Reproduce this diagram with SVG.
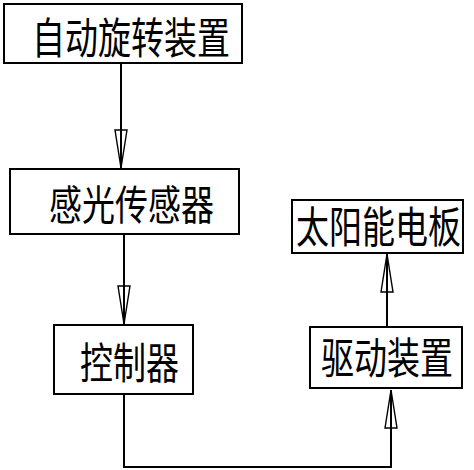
<svg xmlns="http://www.w3.org/2000/svg" width="474" height="470" viewBox="0 0 474 470">
<style>
.box{fill:#fff;stroke:#000;stroke-width:2}
.lbl{font-family:"Noto Sans CJK SC","Noto Sans CJK JP",sans-serif;font-size:33px;fill:#000}
.con{fill:none;stroke:#000;stroke-width:2;marker-end:url(#arr)}
</style>
<defs>
<marker id="arr" markerWidth="42" markerHeight="16" refX="40" refY="8" orient="auto" markerUnits="userSpaceOnUse">
<path d="M2,2 L40,8 L2,14 Z" fill="none" stroke="#000" stroke-width="1.4"/>
</marker>
</defs>
<g id="connectors">
<path class="con" d="M121,63 V168"/>
<path class="con" d="M124,234 V324"/>
<path class="con" d="M124,394 V467 H391 V390"/>
<path class="con" d="M387,327 V254"/>
</g>
<g id="n1"><rect class="box" x="4" y="4" width="238" height="59"/><text class="lbl" transform="translate(32,54) scale(1,1.3)">自动旋转装置</text></g>
<g id="n2"><rect class="box" x="10" y="169" width="229" height="65"/><text class="lbl" transform="translate(49,220) scale(1,1.25)">感光传感器</text></g>
<g id="n3"><rect class="box" x="54" y="325" width="139" height="69"/><text class="lbl" transform="translate(80,379) scale(1,1.3)">控制器</text></g>
<g id="n4"><rect class="box" x="310" y="327" width="152" height="61"/><text class="lbl" transform="translate(321,374) scale(1,1.3)">驱动装置</text></g>
<g id="n5"><rect class="box" x="292" y="200" width="171" height="53"/><text class="lbl" transform="translate(296,243) scale(1,1.3)">太阳能电板</text></g>
</svg>
